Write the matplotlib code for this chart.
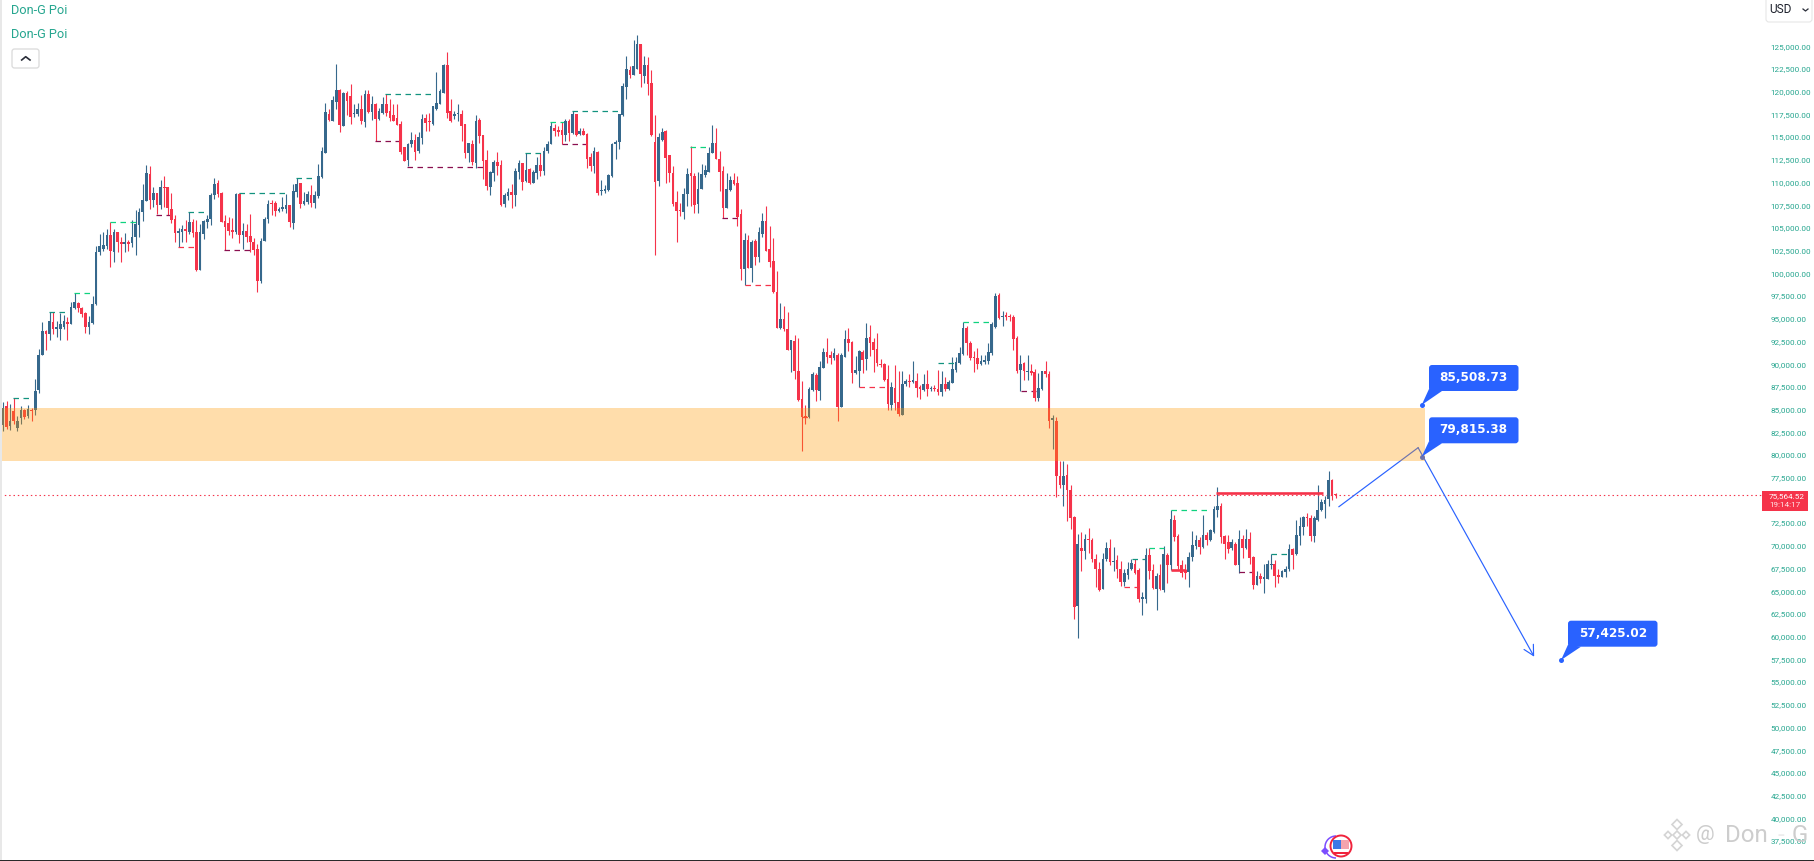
#!/usr/bin/env python3
"""
BTC/USD candles with Don-G Poi levels, supply band and projected path
"""
import matplotlib
matplotlib.use('Agg')
import matplotlib.pyplot as plt
from matplotlib.patches import FancyBboxPatch, Polygon, Rectangle, Circle, Arc

# open, high, low, close in thousands of USD, one list per leg of the market
candles_rise = [
    (83.3,85.8,82.6,85.15),(85.4,86.0,82.9,83.05),(83.2,85.6,82.8,83.8),(84.8,86.3,83.4,83.8),
    (83.0,84.3,82.6,83.8),(84.1,85.4,83.4,85.0),(85.0,85.1,84.0,84.2),(84.3,85.5,84.1,85.1),
    (85.0,85.2,83.8,84.8),(85.0,88.4,84.4,87.1),(87.2,91.7,86.8,91.05),(91.0,94.6,91.0,93.7),
    (93.6,93.8,91.6,93.3),(93.3,95.7,92.7,94.8),(94.6,95.7,93.3,93.9),(93.9,94.8,93.0,94.1),
    (93.9,95.6,92.7,94.4),(94.1,95.4,93.9,94.8),(94.6,95.2,92.7,94.4),(94.4,96.8,94.4,96.3),
    (96.2,97.8,96.1,96.9),(96.7,96.9,95.8,96.2),(96.2,96.3,95.2,95.5),(95.6,95.7,93.4,94.1),
    (94.1,95.3,93.3,94.6),(94.5,97.5,94.4,96.6),(96.6,103.0,96.5,102.4),(102.3,104.3,102.0,103.0),
    (102.7,104.5,102.5,103.1),(103.0,104.9,102.7,104.2),(104.2,105.7,100.7,102.5),(102.4,104.9,101.3,104.5),
    (104.5,104.5,102.3,103.4),(103.4,104.0,101.2,103.2),(103.2,104.4,102.3,103.4),(103.5,103.7,102.5,103.2),
    (103.3,105.9,102.9,104.0),(104.0,107.0,102.0,105.4),(105.3,107.2,104.0,106.8),(106.8,109.8,105.8,108.1),
    (108.0,111.9,108.0,111.0),(110.9,111.8,107.1,108.1),(108.1,109.5,107.3,108.8),(108.8,108.8,106.5,107.5),
    (107.5,110.3,107.1,109.5),(109.5,110.7,107.3,109.4),(109.5,109.5,106.4,107.2),(107.1,108.9,105.5,105.9),
    (106.0,106.4,103.5,104.4),(104.4,105.0,102.9,104.7),(104.6,105.3,103.5,104.9),(104.9,105.9,103.5,104.7),
    (104.6,106.8,104.3,105.7),(105.7,106.0,104.0,104.4),(104.5,105.9,100.3,100.4),(100.4,105.4,100.4,104.5),
    (104.3,105.9,103.8,105.8),(105.7,106.4,105.0,106.0),(106.0,108.8,105.3,108.6),(108.6,110.5,108.2,109.8),
    (109.9,110.3,108.4,108.7),(108.9,109.0,105.7,105.7),(105.8,106.4,102.6,105.1),(105.6,106.2,104.2,104.7),
    (104.8,106.1,103.9,104.5),(104.5,108.8,104.3,108.7),(108.7,108.8,103.3,104.2),(104.2,105.6,102.7,104.7),
    (104.7,105.4,103.4,104.0),(104.1,106.5,102.3,103.5),(103.4,103.9,102.0,102.6),(102.7,103.2,98.0,99.2),
    (99.2,103.9,98.9,103.6),(103.6,106.2,103.6,106.0),(106.0,108.1,105.6,107.6),(107.8,108.1,106.4,107.6),
    (107.7,108.0,106.3,106.9),(106.9,107.3,106.8,107.1),(107.1,108.4,106.9,107.3),(107.1,108.7,106.7,107.5),
    (107.5,107.5,105.1,105.7),(105.6,109.8,104.9,109.1),(109.0,110.5,108.4,109.8),(109.9,110.0,107.2,107.6),
    (107.6,109.0,107.5,108.0),(107.9,109.1,107.6,108.7),(108.6,109.7,107.3,107.7),(107.7,109.1,107.2,108.6),
    (108.5,112.0,108.3,110.7),(110.6,113.9,110.5,113.5),(113.3,118.8,113.3,117.8),(117.6,118.1,116.8,116.9),
    (116.8,119.5,116.8,119.1),(118.9,123.1,118.1,120.2),(120.2,120.3,115.6,116.3),(116.2,120.0,116.2,119.9),
    (119.9,120.1,117.4,119.0),(119.5,120.9,116.5,117.2),(117.5,118.6,117.2,117.7),(117.6,118.8,117.3,118.1),
    (118.1,119.6,116.4,116.8),(116.7,120.2,116.1,119.7),(119.8,120.2,117.7,117.8),(117.8,119.5,116.9,118.6),
    (118.6,118.8,114.6,117.0),(117.0,118.2,116.9,117.9),(117.7,119.4,117.6,118.6),(118.6,119.8,117.3,117.7),
    (117.9,119.2,116.8,117.1),(117.4,118.7,116.8,116.8),(117.1,118.7,116.3,116.3),(116.4,116.8,113.1,113.4),
    (113.9,113.9,112.4,112.4),(112.5,114.3,111.8,114.2),(114.2,115.6,113.9,114.7),(114.7,115.3,112.5,113.4),
    (113.5,115.6,113.2,115.0),(114.9,117.5,114.2,117.0),(117.1,117.5,115.7,116.6),(116.8,117.7,115.7,116.7),
    (116.5,118.4,116.3,118.4),(118.1,122.2,118.0,118.8),(118.7,120.3,118.6,120.1),(119.9,123.1,119.9,122.9),
    (122.9,124.4,117.1,117.7),
]

candles_top = [
    (117.9,119.2,116.7,116.8),(117.3,117.9,117.0,117.6),(117.5,118.6,116.8,117.5),(117.6,118.0,114.6,116.2),
    (116.4,116.4,112.7,113.3),(113.3,114.4,112.3,114.3),(114.2,114.7,111.9,112.3),(112.2,117.4,111.6,116.8),
    (116.9,117.1,114.4,115.1),(115.2,115.2,110.4,112.4),(112.5,113.6,109.2,109.6),(109.5,111.3,108.6,111.2),
    (111.0,112.5,110.2,112.3),(112.3,113.4,110.8,111.8),(111.9,112.5,107.4,107.5),(107.6,108.9,107.3,108.6),
    (108.5,109.4,108.1,109.0),(109.0,109.8,107.2,108.6),(108.6,111.6,107.4,111.3),(111.2,112.5,110.4,112.1),
    (112.2,112.2,109.2,110.1),(110.2,113.3,110.1,111.4),(111.5,111.6,109.8,109.9),(110.0,111.4,109.9,111.2),
    (111.1,112.8,110.4,111.9),(111.9,113.2,110.7,111.3),(111.3,113.9,110.8,113.5),(113.5,114.6,113.3,114.2),
    (114.2,116.7,114.2,116.2),(116.0,116.4,115.1,115.7),(115.8,116.2,115.1,115.6),(115.8,116.7,114.2,115.2),
    (115.2,117.0,114.6,116.8),(116.8,117.0,114.6,115.4),(115.4,117.9,115.3,117.5),(117.5,117.6,115.1,115.2),
    (115.3,116.0,115.2,115.7),(115.7,116.0,115.2,115.2),(115.3,115.5,111.6,112.6),(112.8,113.3,111.3,111.8),
    (111.8,113.9,111.0,113.5),(113.4,113.5,108.6,108.9),(109.1,110.3,108.6,109.2),(109.1,109.7,108.8,109.3),
    (109.2,110.9,109.1,110.8),(110.7,114.4,110.6,114.2),(114.2,114.7,112.6,114.5),(114.5,117.6,113.7,117.5),
    (117.4,121.0,117.3,120.6),(120.5,123.9,119.2,122.5),(122.4,122.8,121.5,121.8),(121.8,125.7,121.8,122.8),
    (122.5,126.2,122.5,125.2),(125.2,125.3,120.5,121.9),(121.7,123.9,121.0,122.9),(122.9,123.8,119.6,120.9),
    (121.0,122.4,115.1,115.2),(114.5,117.4,102.0,110.1),(110.2,115.4,109.6,115.0),(114.7,116.0,114.6,115.6),
    (115.7,115.8,109.9,112.7),(113.0,113.0,110.1,111.0),(111.0,111.8,107.4,107.6),(107.9,109.1,103.4,106.9),
    (107.0,107.8,106.3,106.9),(106.8,109.4,106.0,108.7),(108.7,111.6,107.4,110.9),(111.0,114.0,107.4,110.7),
    (110.7,111.1,106.6,107.5),(107.6,111.2,106.6,109.3),(109.3,112.0,109.3,110.9),(110.8,111.9,110.6,111.4),
    (111.2,113.9,111.2,113.3),(113.2,116.3,113.2,114.4),(114.4,116.0,112.6,112.6),(112.6,113.5,109.1,111.2),
    (111.3,111.8,106.1,107.2),(107.2,111.0,107.2,109.3),(109.2,110.7,109.1,110.3),(110.3,111.1,109.7,109.8),
    (110.0,110.7,105.2,106.2),
]

candles_fall = [
    (106.5,107.1,99.3,100.5),(100.5,104.4,98.7,103.7),(103.7,104.2,100.6,100.6),(100.6,103.7,99.1,103.5),
    (103.6,103.8,100.9,101.8),(101.8,105.1,101.3,104.5),(104.3,106.6,104.0,105.8),(105.8,107.4,102.5,102.5),
    (102.7,105.2,100.7,101.2),(101.4,103.9,97.8,97.9),(98.0,100.3,94.0,94.0),(94.0,96.7,93.9,95.0),
    (95.0,96.4,93.7,93.9),(93.9,95.8,91.6,91.6),(91.6,92.7,89.1,92.7),(92.6,93.2,88.4,89.3),
    (89.3,92.9,86.0,86.1),(86.2,88.1,80.4,84.2),(84.3,85.5,83.4,84.2),(84.2,87.5,84.1,87.3),
    (87.2,89.1,87.1,88.9),(88.8,89.0,86.0,87.2),(87.1,90.3,86.1,89.7),(89.6,91.8,89.6,91.3),
    (91.3,92.9,90.1,90.8),(91.0,91.4,90.0,90.7),(90.7,91.8,90.5,91.2),(91.0,91.2,83.7,85.3),
    (85.3,91.2,85.3,91.0),(90.8,93.8,90.8,92.8),(92.8,94.0,91.5,92.3),(92.4,92.5,87.9,89.0),
    (89.0,90.9,88.9,89.4),(89.3,91.6,87.5,91.4),(91.3,91.6,89.0,90.5),(90.6,94.5,89.4,92.9),
    (93.0,94.3,90.9,92.3),(92.4,92.9,89.1,91.6),(91.7,93.4,89.8,90.1),(90.0,90.6,89.7,89.9),
    (90.0,90.1,88.2,88.3),(88.4,89.9,85.0,85.6),(85.5,88.0,85.0,87.5),(87.4,89.9,85.0,85.7),
    (85.8,89.3,84.3,84.5),(84.4,89.3,84.4,87.8),(87.8,88.4,87.6,88.1),(88.1,88.9,87.5,88.0),
    (88.0,90.4,87.9,88.3),(88.2,89.0,86.4,87.4),(87.5,87.7,86.2,87.3),(87.2,88.9,87.1,87.8),
    (87.8,89.4,86.5,87.3),(87.3,87.6,87.1,87.4),(87.4,87.7,87.0,87.3),(87.3,89.4,86.6,86.9),
    (86.9,89.2,86.5,87.8),(87.8,88.6,87.0,87.3),(87.3,88.3,87.2,88.0),(87.9,90.8,87.9,89.5),
    (89.4,90.8,89.1,90.2),(90.1,91.9,90.0,91.2),(91.1,94.6,91.0,94.0),(94.0,94.2,91.0,92.3),
    (92.3,92.6,90.5,90.7),(90.8,91.5,89.1,90.7),(90.7,91.8,89.5,90.0),(90.0,91.0,89.9,90.3),
    (90.2,91.0,90.0,90.5),(90.3,92.3,90.0,91.3),(91.2,94.6,91.0,94.4),(94.1,97.8,94.0,97.5),
    (97.6,97.8,95.0,95.1),(95.2,95.9,94.2,95.3),(95.4,95.7,94.9,95.2),(95.3,95.5,94.8,95.2),
    (95.2,95.4,91.6,92.8),(92.9,93.1,89.0,89.3),(89.4,91.0,87.1,90.0),(90.1,90.2,88.3,89.2),
    (89.1,91.0,88.3,89.2),(89.3,90.0,88.8,89.0),(89.1,89.5,85.9,86.3),(86.3,89.0,85.9,87.4),
    (87.3,89.3,87.2,89.2),(89.2,90.4,88.6,88.9),(88.9,89.2,83.0,83.7),(83.9,84.4,80.7,83.9),
    (83.7,84.2,75.4,77.7),(77.7,79.3,76.4,76.7),(76.7,79.3,74.4,77.7),(77.8,79.0,72.7,76.1),
    (76.2,76.7,71.9,73.1),
]

candles_base = [
    (73.2,73.3,62.0,63.3),(63.4,71.3,59.9,70.2),(69.8,71.5,67.2,69.4),(69.4,71.3,68.6,70.7),
    (70.7,72.0,69.2,70.6),(70.6,70.9,68.2,68.5),(68.6,69.1,65.5,67.4),(67.4,68.2,65.0,65.1),
    (65.2,69.2,65.2,68.6),(68.5,70.4,68.3,69.8),(69.8,70.8,67.9,68.2),(68.2,69.9,67.2,68.3),
    (68.4,69.0,66.5,67.5),(67.5,68.3,65.6,66.0),(66.0,67.5,65.6,67.0),(66.8,68.2,66.3,67.5),
    (67.5,68.5,67.3,68.1),(68.0,68.5,66.9,67.0),(67.3,67.6,63.8,64.2),(64.2,64.9,62.4,64.3),
    (64.2,69.8,63.7,69.0),(69.0,69.8,66.3,67.2),(67.3,68.0,65.2,65.4),(65.3,67.0,62.9,66.7),
    (66.8,68.0,65.1,65.2),(65.1,70.0,64.9,69.1),(69.0,69.2,65.9,67.9),(67.9,74.0,67.3,73.0),
    (72.9,73.4,70.5,71.0),(71.1,71.3,67.5,67.8),(67.9,68.4,66.6,67.0),(67.3,68.0,66.3,67.0),
    (67.1,69.3,65.5,68.8),(68.8,71.6,68.3,70.1),(70.0,71.2,69.7,70.6),(70.6,71.0,69.1,69.9),
    (69.9,73.4,69.8,71.2),(71.2,71.5,70.1,70.6),(70.6,71.8,70.5,71.7),(71.5,74.4,71.4,74.1),
    (74.0,76.5,73.2,74.4),(74.4,74.7,70.3,71.0),(71.1,71.2,68.6,70.2),(70.4,71.2,69.2,69.7),
    (69.8,70.8,69.5,70.4),(70.2,70.4,67.9,67.9),(67.9,71.7,67.0,70.8),(70.8,71.2,68.7,69.8),
    (69.8,71.9,69.6,70.8),(70.8,71.5,68.0,68.7),(68.8,68.9,65.3,65.7),(65.7,67.2,65.7,66.7),
    (66.7,67.0,65.9,66.3),(66.4,68.0,64.8,66.5),(66.4,68.4,66.3,68.0),(67.9,69.1,67.4,68.0),
    (68.0,68.4,65.5,66.7),(66.8,67.5,65.9,66.6),(66.6,67.3,66.6,67.2),(67.1,67.8,66.6,67.5),
    (67.4,70.2,67.2,69.7),(69.7,69.8,67.4,69.0),(69.1,72.8,69.0,71.2),(71.1,73.2,70.1,72.2),
    (72.1,73.3,71.2,73.2),(73.2,73.6,72.2,73.1),(73.1,73.4,70.5,71.1),(71.1,73.3,70.4,73.1),
    (72.9,76.7,72.7,73.9),(73.9,75.2,73.8,74.8),(74.6,75.5,73.1,75.1),(75.2,78.25,74.4,77.2),
    (77.2,77.4,75.1,75.5),(75.65,75.8,75.3,75.5645),
]

# level lines: first bar, last bar, price in thousands, kind
poi_starts = [2.9, 12.8, 19.8, 29.9, 42.7, 48.9, 51.7, 61.7, 65.9, 81.8, 103.9, 106.7, 112.8, 145.8, 152.8,
              155.9, 158.9, 191.9, 200.8, 207, 222.9, 238.8, 260.9, 267.9, 284.1, 312.8, 315.1, 319.8, 326,
              345, 353.9]
poi_ends = [8.4, 17.3, 24.3, 37.4, 46.6, 53.6, 56.4, 69.6, 79.6, 87.2, 110.9, 120.7, 134.6, 150.3, 157,
            162.6, 172.9, 196.9, 205, 214.8, 224.9, 246.9, 265.4, 275.7, 288.3, 317, 319, 324, 336.6,
            348.9, 358.7]
poi_prices = [86.3, 95.75, 97.85, 105.65, 106.4, 102.9, 106.8, 102.6, 108.85, 110.5, 114.6, 119.7, 111.75,
              113.25, 116.7, 114.25, 117.9, 113.9, 106.1, 98.7, 84.2, 87.5, 90.1, 94.65, 87.1, 65.5, 68.5,
              69.8, 73.95, 67.1, 69.1]
poi_kinds = ['teal', 'teal', 'green', 'green', 'maroon', 'red', 'teal', 'maroon', 'teal', 'teal', 'maroon',
             'teal', 'maroon', 'teal', 'green', 'maroon', 'teal', 'green', 'maroon', 'red', 'red', 'red',
             'teal', 'green', 'maroon', 'red', 'teal', 'green', 'green', 'maroon', 'teal']

# the two solid levels near the last price
solid_starts = [326, 338.7]
solid_ends = [330.2, 368.4]
solid_prices = [67.3, 75.86]

band_top = 85200
band_bottom = 79350
band_end_bar = 396.9
last_price = 75564.52
countdown = '19:14:17'

path_bars = [372.9, 395, 427.4]
path_prices = [74310, 80806, 57793]

note_bars = [396, 396, 434.9]
note_prices = [85508.73, 79815.38, 57425.02]

tick_values = [125000 - 2500 * k for k in range(36)]

BLUE = '#36688C'
RED = '#F5334A'
TICK = '#26A68F'
NOTE = '#2962FF'
KIND_COLORS = {'teal': '#12937F', 'green': '#0FD27F', 'maroon': '#8A0F4F', 'red': '#F5334A'}

W, H = 1814, 861
BAR_FIRST_PX = 3.0
BAR_LAST_PX = 1335.7
PLOT_RIGHT_PX = 1765


def price_to_px(p):
    return 46.3 + (125000 - p) / 110.1


candles = candles_rise + candles_top + candles_fall + candles_base
n = len(candles)
bar_px = (BAR_LAST_PX - BAR_FIRST_PX) / (n - 1)
print('candles', n, 'bar spacing', round(bar_px, 3))


def bar_to_px(i):
    return BAR_FIRST_PX + i * bar_px


fig = plt.figure(figsize=(W / 100, H / 100), dpi=100)
fig.patch.set_facecolor('white')
ax = fig.add_axes([0, 0, PLOT_RIGHT_PX / W, 1])
ax.set_xlim(-BAR_FIRST_PX / bar_px, (PLOT_RIGHT_PX - BAR_FIRST_PX) / bar_px)
ax.set_ylim(125000 - (H - 46.3) * 110.1, 125000 + 46.3 * 110.1)
for s in ax.spines.values():
    s.set_visible(False)
ax.set_xticks([])
ax.yaxis.tick_right()
ax.set_yticks(tick_values)
ax.set_yticklabels([f'{v:,.2f}' for v in tick_values], fontname='Roboto', fontsize=5.9, color=TICK)
ax.tick_params(axis='y', length=0, pad=4)

# candles
for i, (o, h, l, c) in enumerate(candles):
    col = BLUE if c >= o else RED
    ax.vlines(i, l * 1000, h * 1000, color=col, lw=0.8, zorder=2)
    bottom = min(o, c) * 1000
    height = max(abs(c - o) * 1000, 130)
    ax.bar(i, height, bottom=bottom, width=0.74, color=col, linewidth=0, zorder=3)

# Poi levels
for a, b, p, k in zip(poi_starts, poi_ends, poi_prices, poi_kinds):
    ax.plot([a, b], [p * 1000, p * 1000], color=KIND_COLORS[k], lw=0.9,
            linestyle=(0, (4.4, 3.6)), zorder=2, solid_capstyle='butt')
for a, b, p in zip(solid_starts, solid_ends, solid_prices):
    ax.plot([a, b], [p * 1000, p * 1000], color=RED, lw=1.9, zorder=4, solid_capstyle='butt')

# last price line
ax.axhline(last_price, color=RED, lw=0.8, linestyle=(0, (1.3, 2.6)), zorder=2)

# projected path, the band sits over it
ax.plot(path_bars[:2], path_prices[:2], color=NOTE, lw=0.85, zorder=4)
ax.annotate('', xy=(path_bars[2], path_prices[2]), xytext=(path_bars[1], path_prices[1]),
            arrowprops=dict(arrowstyle='->,head_length=0.6,head_width=0.32', color=NOTE, lw=0.85,
                            shrinkA=0, shrinkB=0, mutation_scale=12), zorder=4)
ax.plot(note_bars, note_prices, linestyle='none', marker='o', ms=3.6, color=NOTE, mew=0, zorder=4)

ax.fill_between([-1, band_end_bar], band_bottom, band_top, color='#FF9800', alpha=0.33, linewidth=0, zorder=5)

# overlay in pixels for the screen furniture
ov = fig.add_axes([0, 0, 1, 1])
ov.set_xlim(0, W)
ov.set_ylim(H, 0)
ov.axis('off')
ov.patch.set_alpha(0)

ov.add_patch(Rectangle((0, 0), 1.7, H, color='#E8E8E8', lw=0))
ov.add_patch(Rectangle((0, 859.6), W, 1.6, color='#2A2A2A', lw=0))

for y in (10, 34):
    ov.text(11, y, 'Don-G Poi', fontname='Roboto', fontsize=9.2, color='#26A68F', va='center', ha='left')

ov.add_patch(FancyBboxPatch((12, 49), 27, 19, boxstyle='round,pad=0,rounding_size=2.5',
                            fc='white', ec='#DADADA', lw=0.9))
ov.plot([21.7, 25.7, 30], [60, 56.7, 60], color='#2A2E39', lw=1.2)

ov.add_patch(FancyBboxPatch((1766, -6), 46, 28, boxstyle='round,pad=0,rounding_size=3',
                            fc='white', ec='#E6E6E6', lw=0.8))
ov.text(1769, 9.5, 'USD', fontname='Roboto', fontsize=8.6, color='#1E222D', va='center', ha='left')
ov.plot([1803, 1805.5, 1808], [9, 11, 9], color='#2A2E39', lw=0.9)

# last price tag, covers the 75,000 tick
ov.add_patch(Rectangle((1762, 491), 46, 19.7, color=RED, lw=0))
ov.text(1769, 496.3, f'{last_price:,.2f}', fontname='Roboto', fontsize=5.9, color='white', va='center', ha='left')
ov.text(1769, 505.3, countdown, fontname='Roboto', fontsize=5.9, color='#FFE3E6', va='center', ha='left')


# callouts hang off the points of the path
def callout(bar, price, box_left, box_top, box_w=89.5, box_h=26):
    x = bar_to_px(bar)
    y = price_to_px(price)
    bottom = box_top + box_h
    ov.add_patch(Polygon([(x, y), (box_left, bottom - 2), (box_left + 13, bottom)], color=NOTE, lw=0, zorder=6))
    ov.add_patch(FancyBboxPatch((box_left, box_top), box_w, box_h, boxstyle='round,pad=0,rounding_size=3',
                                fc=NOTE, ec='none', zorder=6))
    ov.text(box_left + box_w / 2, box_top + box_h / 2 - 0.5, f'{price:,.2f}', color='white', fontsize=8.7,
            fontweight='bold', family='DejaVu Sans', ha='center', va='center', zorder=7)


callout(note_bars[0], note_prices[0], 1429, 365)
callout(note_bars[1], note_prices[1], 1429, 417.3)
callout(note_bars[2], note_prices[2], 1568, 620.7)

# small event icon at the bottom
ov.add_patch(Arc((1336, 847), 22, 22, theta1=90, theta2=270, color='#7C4DFF', lw=1.1))
ov.plot([1325], [851], marker='D', ms=4, color='#7C4DFF', mew=0)
ov.add_patch(Circle((1341, 846), 10.5, fc='white', ec='#F0233C', lw=1.4))
ov.add_patch(Rectangle((1333, 840), 16, 9, color='#F5A3AE', lw=0))
ov.add_patch(Rectangle((1333, 840), 8, 9, color='#3B78E7', lw=0))
ov.add_patch(Rectangle((1334, 852), 14, 2, color='#F0233C', lw=0))

# watermark, the hyphen almost disappears in the reference
for cx, cy, r in [(1677, 835, 4), (1668, 835, 3.6), (1686, 835, 3.6), (1677, 824.5, 5), (1677, 845.5, 5)]:
    ov.add_patch(Polygon([(cx - r, cy), (cx, cy - r), (cx + r, cy), (cx, cy + r)], fc='none', ec='#D4D4D4', lw=1.2))
ov.text(1696, 835, '@', fontname='Roboto', fontsize=15, color='#CDCDCD', va='center', ha='left')
ov.text(1725, 835, 'Don', fontname='Roboto', fontsize=17.3, color='#CDCDCD', va='center', ha='left')
ov.text(1778, 835, '-', fontname='Roboto', fontsize=17.3, color='#EDEDED', va='center', ha='left')
ov.text(1792, 835, 'G', fontname='Roboto', fontsize=17.3, color='#CDCDCD', va='center', ha='left')

fig.savefig('out.png', dpi=100)
plt.close(fig)
